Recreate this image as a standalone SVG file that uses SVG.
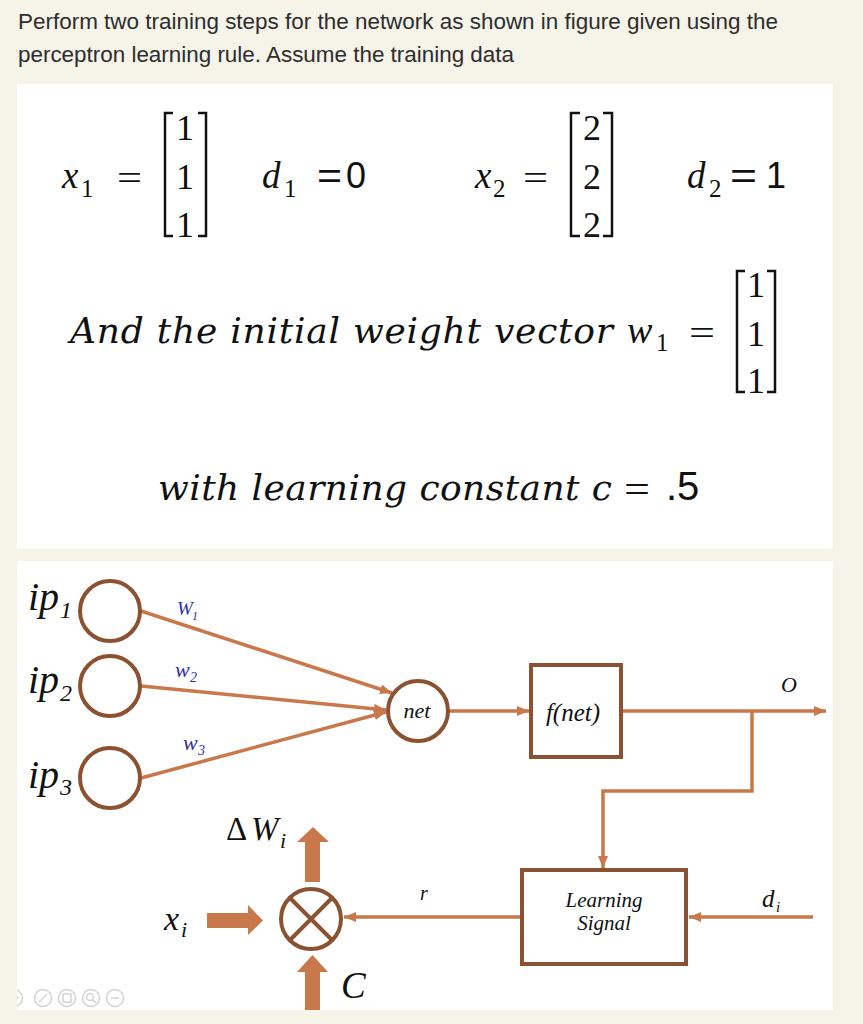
<svg xmlns="http://www.w3.org/2000/svg" width="863" height="1024" viewBox="0 0 863 1024">
<defs>
<style>
.q{font-family:"Liberation Sans",Arial,sans-serif;font-size:21.5px;fill:#2d2d2d}
.m{font-family:"Liberation Serif","Times New Roman",serif;fill:#111}
.mi{font-family:"Liberation Serif","Times New Roman",serif;font-style:italic;fill:#111}
.dj{font-family:"DejaVu Serif",serif;font-style:italic;fill:#111}
.sn{font-family:"Liberation Sans",Arial,sans-serif;fill:#111}
.br{fill:none;stroke:#111;stroke-width:2.5}
.node{fill:#fff;stroke:#8B5232;stroke-width:4}
.conn{fill:none;stroke:#C8784A;stroke-width:3.5}
.blk{fill:#C8784A}
.wt{font-family:"Liberation Serif","Times New Roman",serif;font-style:italic;fill:#2F2FA8}
.ic{fill:none;stroke:#d4d4d4;stroke-width:1.5}
</style>
<marker id="ah" viewBox="0 0 12 10" refX="12" refY="5" markerWidth="12" markerHeight="10" markerUnits="userSpaceOnUse" orient="auto">
<path d="M0,0 L12,5 L0,10 z" fill="#C8784A"/>
</marker>
<clipPath id="pc"><rect x="17" y="561" width="816" height="449"/></clipPath>
</defs>
<rect x="0" y="0" width="863" height="1024" fill="#F6F3E8"/>

<g id="question">
<text class="q" x="18" y="29" textLength="760" lengthAdjust="spacingAndGlyphs">Perform two training steps for the network as shown in figure given using the</text>
<text class="q" x="18" y="62" textLength="496" lengthAdjust="spacingAndGlyphs">perceptron learning rule. Assume the training data</text>
</g>

<g id="data-panel">
<rect x="17" y="84" width="816" height="465" fill="#fff"/>
<g id="x1">
<text class="mi" x="62" y="188" font-size="37">x</text>
<text class="m" x="81" y="197" font-size="25">1</text>
<text class="m" x="117" y="190" font-size="36" textLength="25" lengthAdjust="spacingAndGlyphs">=</text>
<path class="br" d="M173,113 H165 V236 H173 M198,113 H206 V236 H198"/>
<text class="m" x="185" y="140" font-size="36" text-anchor="middle">1</text>
<text class="m" x="185" y="189" font-size="36" text-anchor="middle">1</text>
<text class="m" x="185" y="237" font-size="36" text-anchor="middle">1</text>
</g>
<g id="d1">
<text class="mi" x="262" y="188" font-size="37">d</text>
<text class="m" x="284" y="197" font-size="25">1</text>
<text class="sn" x="317" y="188" font-size="37" textLength="25" lengthAdjust="spacingAndGlyphs">=</text>
<text class="sn" x="346" y="188" font-size="36">0</text>
</g>
<g id="x2">
<text class="mi" x="475" y="188" font-size="37">x</text>
<text class="m" x="493" y="197" font-size="25">2</text>
<text class="m" x="523" y="190" font-size="36" textLength="25" lengthAdjust="spacingAndGlyphs">=</text>
<path class="br" d="M580,113 H571 V236 H580 M603,113 H612 V236 H603"/>
<text class="m" x="592" y="140" font-size="36" text-anchor="middle">2</text>
<text class="m" x="592" y="189" font-size="36" text-anchor="middle">2</text>
<text class="m" x="592" y="237" font-size="36" text-anchor="middle">2</text>
</g>
<g id="d2">
<text class="mi" x="687" y="188" font-size="37">d</text>
<text class="m" x="709" y="197" font-size="25">2</text>
<text class="sn" x="730" y="188" font-size="37" textLength="27" lengthAdjust="spacingAndGlyphs">=</text>
<text class="sn" x="766" y="188" font-size="36">1</text>
</g>
<g id="w1">
<text class="dj" x="70" y="343" font-size="36" textLength="543" lengthAdjust="spacing">And the initial weight vector</text>
<text class="mi" x="627" y="343" font-size="38">w</text>
<text class="m" x="656" y="351" font-size="25">1</text>
<text class="m" x="689" y="345" font-size="36" textLength="26" lengthAdjust="spacingAndGlyphs">=</text>
<path class="br" d="M745,271 H737 V392 H745 M767,271 H775 V392 H767"/>
<text class="m" x="756" y="297" font-size="36" text-anchor="middle">1</text>
<text class="m" x="756" y="346" font-size="36" text-anchor="middle">1</text>
<text class="m" x="756" y="393" font-size="36" text-anchor="middle">1</text>
</g>
<g id="c">
<text class="dj" x="158" y="500" font-size="36" textLength="454" lengthAdjust="spacing">with learning constant c</text>
<text class="m" x="624" y="502" font-size="38" textLength="26" lengthAdjust="spacingAndGlyphs">=</text>
<text class="sn" x="666" y="500" font-size="40">.5</text>
</g>
</g>

<g id="network-panel">
<rect x="17" y="561" width="816" height="449" fill="#fff"/>
</g>

<g id="connectors">
<line class="conn" x1="141" y1="611" x2="392" y2="693" marker-end="url(#ah)"/>
<line class="conn" x1="141" y1="686" x2="386" y2="710" marker-end="url(#ah)"/>
<line class="conn" x1="141" y1="778" x2="386" y2="712" marker-end="url(#ah)"/>
<line class="conn" x1="450" y1="711" x2="529" y2="711" marker-end="url(#ah)"/>
<line class="conn" x1="622" y1="711" x2="826" y2="711" marker-end="url(#ah)"/>
<path class="conn" d="M752,711 V791 H603 V868" marker-end="url(#ah)"/>
<line class="conn" x1="522" y1="917" x2="344" y2="917" marker-end="url(#ah)"/>
<line class="conn" x1="813" y1="917" x2="689" y2="917" marker-end="url(#ah)"/>
<polygon class="blk" points="207,913 248,913 248,905 263,920.5 248,935 248,928 207,928"/>
<polygon class="blk" points="305,882 305,842 297,842 313,827 329,842 320,842 320,882"/>
<polygon class="blk" points="305,1010 305,972 297,972 312.5,955 328,972 320,972 320,1010"/>
</g>

<g id="ip1">
<circle class="node" cx="110" cy="611" r="30"/>
<text class="mi" x="28" y="610" font-size="40">ip</text>
<text class="mi" x="60" y="618" font-size="24">1</text>
</g>
<g id="ip2">
<circle class="node" cx="110" cy="686" r="30"/>
<text class="mi" x="28" y="693" font-size="40">ip</text>
<text class="mi" x="60" y="701" font-size="24">2</text>
</g>
<g id="ip3">
<circle class="node" cx="110" cy="778" r="30"/>
<text class="mi" x="28" y="788" font-size="40">ip</text>
<text class="mi" x="60" y="795" font-size="24">3</text>
</g>

<g id="weights">
<text class="wt" x="177" y="615" font-size="19">W</text>
<text class="wt" x="192" y="620" font-size="12">1</text>
<text class="wt" x="175" y="677" font-size="22">w</text>
<text class="wt" x="190" y="682" font-size="14">2</text>
<text class="wt" x="183" y="750" font-size="22">w</text>
<text class="wt" x="198" y="755" font-size="14">3</text>
</g>

<g id="net">
<circle class="node" cx="418" cy="711" r="30"/>
<text class="mi" x="417" y="718" font-size="22" text-anchor="middle">net</text>
</g>

<g id="fnet">
<rect class="node" x="531" y="665" width="90" height="92"/>
<text class="mi" x="573" y="721" font-size="25" text-anchor="middle">f(net)</text>
</g>

<g id="output">
<text class="mi" x="781" y="692" font-size="22">O</text>
</g>

<g id="learning-signal">
<rect class="node" x="522" y="870" width="164" height="94"/>
<text class="mi" x="604" y="907" font-size="21" text-anchor="middle">Learning</text>
<text class="mi" x="604" y="930" font-size="21" text-anchor="middle">Signal</text>
</g>

<g id="labels">
<text class="mi" x="420" y="900" font-size="20">r</text>
<text class="mi" x="762" y="907" font-size="25">d</text>
<text class="mi" x="776" y="912" font-size="15">i</text>
<text class="m" x="226" y="840" font-size="33">Δ</text>
<text class="mi" x="251" y="840" font-size="33">W</text>
<text class="mi" x="280" y="848" font-size="22">i</text>
<text class="mi" x="164" y="930" font-size="34">x</text>
<text class="mi" x="181" y="937" font-size="22">i</text>
<text class="mi" x="341" y="998" font-size="37">C</text>
</g>

<g id="multiplier">
<circle class="node" cx="311" cy="919" r="30"/>
<path d="M290,898 L332,940 M332,898 L290,940" stroke="#8B5232" stroke-width="4"/>
</g>

<g id="toolbar" clip-path="url(#pc)">
<circle class="ic" cx="14" cy="998" r="8.5"/>
<path class="ic" d="M12,993 L18,998 L12,1003"/>
<circle class="ic" cx="43" cy="998" r="8.5"/>
<path class="ic" d="M39,1002 L47,994"/>
<circle class="ic" cx="67" cy="998" r="8.5"/>
<rect class="ic" x="63" y="994" width="8" height="8"/>
<circle class="ic" cx="91" cy="998" r="8.5"/>
<circle class="ic" cx="90" cy="997" r="3.5"/>
<path class="ic" d="M92.5,999.5 L96,1003"/>
<circle class="ic" cx="115" cy="998" r="8.5"/>
<path class="ic" d="M111,998 H119"/>
</g>
</svg>
